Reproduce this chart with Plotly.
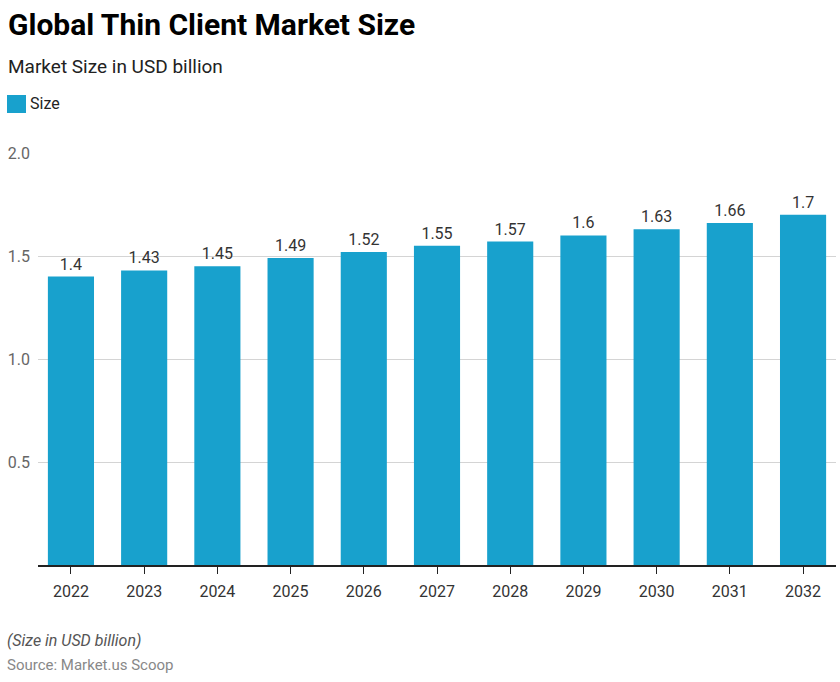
import plotly.graph_objects as go

years = ["2022", "2023", "2024", "2025", "2026", "2027", "2028", "2029", "2030", "2031", "2032"]
size = [1.4, 1.43, 1.45, 1.49, 1.52, 1.55, 1.57, 1.6, 1.63, 1.66, 1.7]
y_ticks = [0.5, 1.0, 1.5, 2.0]

BAR_COLOR = "#18a1cd"
FONT = "Roboto"

W, H = 840, 682
L, R, T, B = 38, 4, 153, 117
PW, PH = W - L - R, H - T - B


def px(x):
    # page pixel -> paper x
    return (x - L) / PW


def py(y):
    # page pixel -> paper y
    return (H - B - y) / PH


fig = go.Figure()
fig.add_trace(
    go.Bar(
        x=years,
        y=size,
        name="Size",
        marker=dict(color=BAR_COLOR, line=dict(width=0)),
        text=[f"{v:g}" for v in size],
        textposition="outside",
        textfont=dict(family=FONT, size=16, color="#333333"),
        cliponaxis=False,
        showlegend=False,
    )
)

fig.update_layout(
    width=W,
    height=H,
    margin=dict(l=L, r=R, t=T, b=B),
    paper_bgcolor="white",
    plot_bgcolor="white",
    bargap=0.37,
    font=dict(family=FONT, color="#333333"),
)
fig.update_xaxes(
    type="category",
    range=[-0.45, 10.45],
    showline=True,
    linecolor="#222222",
    linewidth=1.5,
    ticks="outside",
    ticklen=7,
    tickcolor="#222222",
    tickfont=dict(family=FONT, size=16, color="#333333"),
    ticklabelstandoff=4,
    showgrid=False,
)
fig.update_yaxes(
    range=[0, 2.0],
    tickvals=y_ticks,
    ticktext=[f"{v:.1f}" for v in y_ticks],
    showgrid=True,
    gridcolor="#d4d4d4",
    gridwidth=1,
    zeroline=False,
    tickfont=dict(family=FONT, size=16, color="#666666"),
    ticks="",
    ticklabelstandoff=7,
)

# title block
fig.add_annotation(
    text="<b>Global Thin Client Market Size</b>", x=px(6), y=py(24),
    xref="paper", yref="paper", xanchor="left", yanchor="middle",
    showarrow=False, font=dict(family=FONT, size=30, color="#000000"),
)
fig.add_annotation(
    text="Market Size in USD billion", x=px(6), y=py(66),
    xref="paper", yref="paper", xanchor="left", yanchor="middle",
    showarrow=False, font=dict(family=FONT, size=19, color="#222222"),
)
# legend
fig.add_shape(
    type="rect", xref="paper", yref="paper",
    x0=px(7), x1=px(26), y0=py(113), y1=py(95),
    fillcolor=BAR_COLOR, line=dict(width=0),
)
fig.add_annotation(
    text="Size", x=px(28), y=py(103),
    xref="paper", yref="paper", xanchor="left", yanchor="middle",
    showarrow=False, font=dict(family=FONT, size=16, color="#222222"),
)
# footer
fig.add_annotation(
    text="<i>(Size in USD billion)</i>", x=px(5), y=py(640),
    xref="paper", yref="paper", xanchor="left", yanchor="middle",
    showarrow=False, font=dict(family=FONT, size=16, color="#555555"),
)
fig.add_annotation(
    text="Source: Market.us Scoop", x=px(5), y=py(665),
    xref="paper", yref="paper", xanchor="left", yanchor="middle",
    showarrow=False, font=dict(family=FONT, size=15, color="#888888"),
)

fig.write_html(
    "out.html",
    config={"displayModeBar": False},
    post_script="document.body.style.margin='0';",
)
